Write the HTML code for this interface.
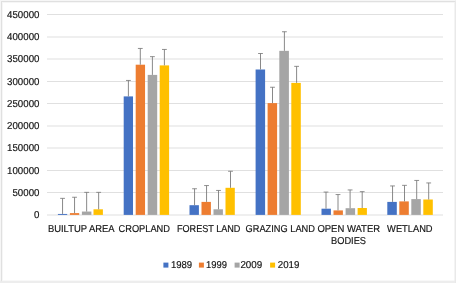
<!DOCTYPE html>
<html><head><meta charset="utf-8"><title>chart</title>
<style>
html,body{margin:0;padding:0;background:#ffffff;}
body{width:456px;height:283px;overflow:hidden;position:relative;font-family:"Liberation Sans",Arial,sans-serif;}
svg{position:absolute;left:0;top:0;}
text{font-family:"Liberation Sans",Arial,sans-serif;fill:#141414;stroke:#141414;stroke-width:0.17;text-rendering:geometricPrecision;}
</style></head><body>
<svg width="456" height="283" viewBox="0 0 456 283">
<rect x="0" y="0" width="456" height="283" fill="#ffffff"/>
<rect x="0" y="0" width="456" height="1" fill="#f6f6f6"/>
<rect x="0" y="0" width="1" height="283" fill="#f6f6f6"/>
<rect x="454" y="1" width="1" height="282" fill="#f4f4f4"/>
<rect x="455" y="0.5" width="1" height="283" fill="#e9e9e9"/>
<rect x="0" y="280.6" width="455" height="2.4" fill="#ededed"/>
<rect x="1.2" y="1" width="453.8" height="1" fill="#e0e0e0"/>
<rect x="1" y="1.2" width="1" height="280" fill="#e0e0e0"/>
<rect x="2" y="2" width="452" height="1" fill="#f6f6f6"/>
<rect x="2" y="2" width="1" height="278.7" fill="#f6f6f6"/>

<rect x="47" y="214" width="396" height="2" fill="#efefef"/>
<text x="34.05" y="218.15" font-size="10" textLength="5.40" lengthAdjust="spacingAndGlyphs">0</text>
<rect x="47" y="192" width="396" height="1" fill="#e0e0e0"/>
<text x="12.45" y="195.98" font-size="10" textLength="27.00" lengthAdjust="spacingAndGlyphs">50000</text>
<rect x="47" y="170" width="396" height="1" fill="#e0e0e0"/>
<text x="7.05" y="173.96" font-size="10" textLength="32.40" lengthAdjust="spacingAndGlyphs">100000</text>
<rect x="47" y="147" width="396" height="2" fill="#efefef"/>
<text x="7.05" y="151.44" font-size="10" textLength="32.40" lengthAdjust="spacingAndGlyphs">150000</text>
<rect x="47" y="125" width="396" height="2" fill="#efefef"/>
<text x="7.05" y="129.42" font-size="10" textLength="32.40" lengthAdjust="spacingAndGlyphs">200000</text>
<rect x="47" y="103" width="396" height="1" fill="#e0e0e0"/>
<text x="7.05" y="106.90" font-size="10" textLength="32.40" lengthAdjust="spacingAndGlyphs">250000</text>
<rect x="47" y="81" width="396" height="1" fill="#e0e0e0"/>
<text x="7.05" y="84.88" font-size="10" textLength="32.40" lengthAdjust="spacingAndGlyphs">300000</text>
<rect x="47" y="58" width="396" height="2" fill="#efefef"/>
<text x="7.05" y="62.36" font-size="10" textLength="32.40" lengthAdjust="spacingAndGlyphs">350000</text>
<rect x="47" y="36" width="396" height="2" fill="#efefef"/>
<text x="7.05" y="40.34" font-size="10" textLength="32.40" lengthAdjust="spacingAndGlyphs">400000</text>
<rect x="47" y="14" width="396" height="1" fill="#e0e0e0"/>
<text x="7.05" y="17.82" font-size="10" textLength="32.40" lengthAdjust="spacingAndGlyphs">450000</text>
<rect x="57.90" y="213.95" width="9.30" height="0.95" fill="#4472c4"/>
<path d="M62.55 213.95V198.30" stroke="#7c7c7c" stroke-width="0.9" fill="none"/>
<path d="M60.15 198.35H64.95" stroke="#7c7c7c" stroke-width="0.85" fill="none"/>
<rect x="69.90" y="213.10" width="9.30" height="1.80" fill="#ed7d31"/>
<path d="M74.55 213.10V197.20" stroke="#7c7c7c" stroke-width="0.9" fill="none"/>
<path d="M72.15 197.25H76.95" stroke="#7c7c7c" stroke-width="0.85" fill="none"/>
<rect x="81.90" y="211.55" width="9.50" height="3.35" fill="#a5a5a5"/>
<path d="M86.65 211.55V192.30" stroke="#7c7c7c" stroke-width="0.9" fill="none"/>
<path d="M84.25 192.35H89.05" stroke="#7c7c7c" stroke-width="0.85" fill="none"/>
<rect x="93.50" y="209.30" width="9.40" height="5.60" fill="#ffc000"/>
<path d="M98.65 209.30V192.30" stroke="#7c7c7c" stroke-width="0.9" fill="none"/>
<path d="M96.25 192.35H101.05" stroke="#7c7c7c" stroke-width="0.85" fill="none"/>
<rect x="123.70" y="96.40" width="9.30" height="118.50" fill="#4472c4"/>
<path d="M128.40 96.40V80.40" stroke="#7c7c7c" stroke-width="0.9" fill="none"/>
<path d="M126.00 80.45H130.80" stroke="#7c7c7c" stroke-width="0.85" fill="none"/>
<rect x="135.70" y="64.70" width="9.35" height="150.20" fill="#ed7d31"/>
<path d="M140.30 64.70V48.40" stroke="#7c7c7c" stroke-width="0.9" fill="none"/>
<path d="M137.90 48.45H142.70" stroke="#7c7c7c" stroke-width="0.85" fill="none"/>
<rect x="147.70" y="74.90" width="9.50" height="140.00" fill="#a5a5a5"/>
<path d="M152.40 74.90V56.60" stroke="#7c7c7c" stroke-width="0.9" fill="none"/>
<path d="M150.00 56.65H154.80" stroke="#7c7c7c" stroke-width="0.85" fill="none"/>
<rect x="159.70" y="65.40" width="9.40" height="149.50" fill="#ffc000"/>
<path d="M164.40 65.40V49.40" stroke="#7c7c7c" stroke-width="0.9" fill="none"/>
<path d="M162.00 49.45H166.80" stroke="#7c7c7c" stroke-width="0.85" fill="none"/>
<rect x="189.50" y="205.20" width="9.40" height="9.70" fill="#4472c4"/>
<path d="M194.55 205.20V188.70" stroke="#7c7c7c" stroke-width="0.9" fill="none"/>
<path d="M192.15 188.75H196.95" stroke="#7c7c7c" stroke-width="0.85" fill="none"/>
<rect x="201.50" y="201.90" width="9.40" height="13.00" fill="#ed7d31"/>
<path d="M206.55 201.90V185.50" stroke="#7c7c7c" stroke-width="0.9" fill="none"/>
<path d="M204.15 185.55H208.95" stroke="#7c7c7c" stroke-width="0.85" fill="none"/>
<rect x="213.50" y="209.30" width="9.40" height="5.60" fill="#a5a5a5"/>
<path d="M218.50 209.30V190.40" stroke="#7c7c7c" stroke-width="0.9" fill="none"/>
<path d="M216.10 190.45H220.90" stroke="#7c7c7c" stroke-width="0.85" fill="none"/>
<rect x="225.50" y="187.80" width="9.30" height="27.10" fill="#ffc000"/>
<path d="M230.50 187.80V171.20" stroke="#7c7c7c" stroke-width="0.9" fill="none"/>
<path d="M228.10 171.25H232.90" stroke="#7c7c7c" stroke-width="0.85" fill="none"/>
<rect x="255.60" y="69.50" width="9.50" height="145.40" fill="#4472c4"/>
<path d="M260.50 69.50V53.45" stroke="#7c7c7c" stroke-width="0.9" fill="none"/>
<path d="M258.10 53.50H262.90" stroke="#7c7c7c" stroke-width="0.85" fill="none"/>
<rect x="267.60" y="103.10" width="9.50" height="111.80" fill="#ed7d31"/>
<path d="M272.50 103.10V87.20" stroke="#7c7c7c" stroke-width="0.9" fill="none"/>
<path d="M270.10 87.25H274.90" stroke="#7c7c7c" stroke-width="0.85" fill="none"/>
<rect x="279.30" y="50.85" width="9.60" height="164.05" fill="#a5a5a5"/>
<path d="M284.40 50.85V31.70" stroke="#7c7c7c" stroke-width="0.9" fill="none"/>
<path d="M282.00 31.75H286.80" stroke="#7c7c7c" stroke-width="0.85" fill="none"/>
<rect x="291.30" y="82.90" width="9.50" height="132.00" fill="#ffc000"/>
<path d="M296.60 82.90V66.30" stroke="#7c7c7c" stroke-width="0.9" fill="none"/>
<path d="M294.20 66.35H299.00" stroke="#7c7c7c" stroke-width="0.85" fill="none"/>
<rect x="321.50" y="208.70" width="9.40" height="6.20" fill="#4472c4"/>
<path d="M326.00 208.70V192.00" stroke="#7c7c7c" stroke-width="0.9" fill="none"/>
<path d="M323.60 192.05H328.40" stroke="#7c7c7c" stroke-width="0.85" fill="none"/>
<rect x="333.50" y="210.40" width="9.40" height="4.50" fill="#ed7d31"/>
<path d="M338.00 210.40V194.50" stroke="#7c7c7c" stroke-width="0.9" fill="none"/>
<path d="M335.60 194.55H340.40" stroke="#7c7c7c" stroke-width="0.85" fill="none"/>
<rect x="345.60" y="208.20" width="9.50" height="6.70" fill="#a5a5a5"/>
<path d="M350.10 208.20V189.90" stroke="#7c7c7c" stroke-width="0.9" fill="none"/>
<path d="M347.70 189.95H352.50" stroke="#7c7c7c" stroke-width="0.85" fill="none"/>
<rect x="357.60" y="208.00" width="9.30" height="6.90" fill="#ffc000"/>
<path d="M362.20 208.00V191.60" stroke="#7c7c7c" stroke-width="0.9" fill="none"/>
<path d="M359.80 191.65H364.60" stroke="#7c7c7c" stroke-width="0.85" fill="none"/>
<rect x="387.30" y="201.90" width="9.50" height="13.00" fill="#4472c4"/>
<path d="M392.55 201.90V185.90" stroke="#7c7c7c" stroke-width="0.9" fill="none"/>
<path d="M390.15 185.95H394.95" stroke="#7c7c7c" stroke-width="0.85" fill="none"/>
<rect x="399.30" y="201.40" width="9.50" height="13.50" fill="#ed7d31"/>
<path d="M404.50 201.40V185.30" stroke="#7c7c7c" stroke-width="0.9" fill="none"/>
<path d="M402.10 185.35H406.90" stroke="#7c7c7c" stroke-width="0.85" fill="none"/>
<rect x="411.30" y="199.10" width="9.50" height="15.80" fill="#a5a5a5"/>
<path d="M416.70 199.10V180.40" stroke="#7c7c7c" stroke-width="0.9" fill="none"/>
<path d="M414.30 180.45H419.10" stroke="#7c7c7c" stroke-width="0.85" fill="none"/>
<rect x="423.30" y="199.50" width="9.50" height="15.40" fill="#ffc000"/>
<path d="M428.70 199.50V182.90" stroke="#7c7c7c" stroke-width="0.9" fill="none"/>
<path d="M426.30 182.95H431.10" stroke="#7c7c7c" stroke-width="0.85" fill="none"/>
<text x="47.90" y="231.9" font-size="10" textLength="66.70" lengthAdjust="spacingAndGlyphs">BUILTUP AREA</text>
<text x="118.50" y="231.9" font-size="10" textLength="51.50" lengthAdjust="spacingAndGlyphs">CROPLAND</text>
<text x="177.00" y="231.9" font-size="10" textLength="63.40" lengthAdjust="spacingAndGlyphs">FOREST LAND</text>
<text x="245.60" y="231.9" font-size="10" textLength="69.30" lengthAdjust="spacingAndGlyphs">GRAZING LAND</text>
<text x="317.40" y="231.9" font-size="10" textLength="62.70" lengthAdjust="spacingAndGlyphs">OPEN WATER</text>
<text x="331.00" y="243.9" font-size="10" textLength="35.00" lengthAdjust="spacingAndGlyphs">BODIES</text>
<text x="387.10" y="231.9" font-size="10" textLength="45.50" lengthAdjust="spacingAndGlyphs">WETLAND</text>
<rect x="163.4" y="262.6" width="5" height="5" fill="#4472c4"/>
<text x="170.90" y="267.55" font-size="10" textLength="21.25" lengthAdjust="spacingAndGlyphs">1989</text>
<rect x="198.9" y="262.6" width="5" height="5" fill="#ed7d31"/>
<text x="206.00" y="267.55" font-size="10" textLength="20.95" lengthAdjust="spacingAndGlyphs">1999</text>
<rect x="234.6" y="262.6" width="5" height="5" fill="#a5a5a5"/>
<text x="240.40" y="267.55" font-size="10" textLength="21.85" lengthAdjust="spacingAndGlyphs">2009</text>
<rect x="270.1" y="262.6" width="5" height="5" fill="#ffc000"/>
<text x="277.80" y="267.55" font-size="10" textLength="21.65" lengthAdjust="spacingAndGlyphs">2019</text>
</svg></body></html>
